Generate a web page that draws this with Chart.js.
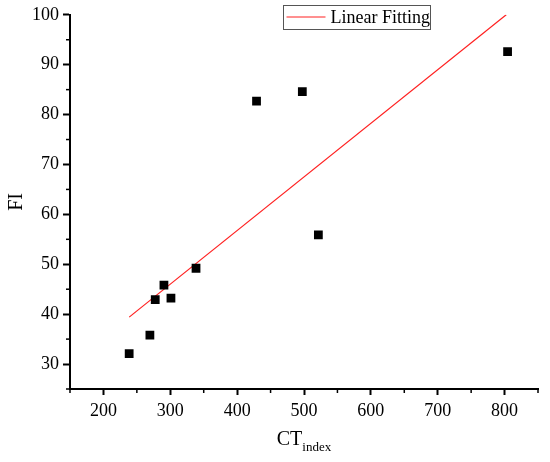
<!DOCTYPE html>
<html>
<head>
<meta charset="utf-8">
<script src="https://cdn.jsdelivr.net/npm/chart.js@4"></script>
<style>
  html, body { margin: 0; padding: 0; background: #fff; }
  #wrap { width: 550px; height: 462px; }
</style>
</head>
<body>
<div id="wrap"><canvas id="chart" width="550" height="462"></canvas></div>
<script>
const ctIndex = [238.5, 269.5, 277.5, 290.5, 301, 338.5, 429, 497.5, 521.5, 804.5]
const fiValues = [32.1, 35.8, 42.9, 45.8, 43.2, 49.2, 82.7, 84.6, 55.9, 92.6]

const fitX = [238.5, 802.5]
const fitY = [39.4, 100]

const xTicks = [200, 300, 400, 500, 600, 700, 800]
const yTicks = [30, 40, 50, 60, 70, 80, 90, 100]
const xMinorTicks = [150, 250, 350, 450, 550, 650, 750, 850]
const yMinorTicks = [25, 35, 45, 55, 65, 75, 85, 95]

const xTitle = 'CT'
const xTitleSub = 'index'
const yTitle = 'FI'
const fitLabel = 'Linear Fitting'

const serif = "'Liberation Serif', 'Times New Roman', serif"

// minor ticks, axis titles and the legend box
const extras = {
    id: 'extras',
    afterDraw(chart) {
        const { ctx, chartArea, scales } = chart
        const x = scales.x
        const y = scales.y
        ctx.save()
        ctx.strokeStyle = '#000'
        ctx.lineWidth = 1.5
        for (const v of xMinorTicks) {
            const px = x.getPixelForValue(v)
            ctx.beginPath()
            ctx.moveTo(px, chartArea.bottom)
            ctx.lineTo(px, chartArea.bottom + 4)
            ctx.stroke()
        }
        for (const v of yMinorTicks) {
            const py = y.getPixelForValue(v)
            ctx.beginPath()
            ctx.moveTo(chartArea.left, py)
            ctx.lineTo(chartArea.left - 4, py)
            ctx.stroke()
        }

        // x title with subscript
        ctx.fillStyle = '#000'
        ctx.textBaseline = 'alphabetic'
        ctx.textAlign = 'left'
        ctx.font = '20px ' + serif
        const w1 = ctx.measureText(xTitle).width
        ctx.font = '13px ' + serif
        const w2 = ctx.measureText(xTitleSub).width
        const cx = (chartArea.left + chartArea.right) / 2
        const startX = cx - (w1 + w2) / 2
        ctx.font = '20px ' + serif
        ctx.fillText(xTitle, startX, 445)
        ctx.font = '13px ' + serif
        ctx.fillText(xTitleSub, startX + w1, 451)

        // y title
        ctx.save()
        ctx.translate(17, (chartArea.top + chartArea.bottom) / 2)
        ctx.rotate(-Math.PI / 2)
        ctx.textAlign = 'center'
        ctx.textBaseline = 'middle'
        ctx.font = '20px ' + serif
        ctx.fillText(yTitle, 0, 0)
        ctx.restore()

        // legend
        const lx = 283.5, ly = 5.5
        ctx.strokeStyle = '#555'
        ctx.lineWidth = 1
        ctx.strokeRect(lx, ly, 147, 24)
        ctx.strokeStyle = '#ff2020'
        ctx.beginPath()
        ctx.moveTo(lx + 3, ly + 11.5)
        ctx.lineTo(lx + 42, ly + 11.5)
        ctx.stroke()
        ctx.fillStyle = '#000'
        ctx.font = '18px ' + serif
        ctx.textAlign = 'left'
        ctx.textBaseline = 'middle'
        ctx.fillText(chart.data.datasets[1].label, lx + 47, ly + 12.5)
        ctx.restore()
    }
}

const canvas = document.getElementById('chart')

const chart = new Chart(canvas, {
    type: 'scatter',
    data: {
        datasets: [
            {
                label: yTitle,
                data: ctIndex.map((v, i) => ({ x: v, y: fiValues[i] })),
                pointStyle: 'rect',
                pointRadius: 6.2,
                pointHoverRadius: 6.2,
                backgroundColor: '#000',
                borderColor: '#000',
                borderWidth: 0,
            },
            {
                label: fitLabel,
                data: fitX.map((v, i) => ({ x: v, y: fitY[i] })),
                showLine: true,
                pointRadius: 0,
                borderColor: '#ff2020',
                borderWidth: 1.2,
            },
        ]
    },
    options: {
        responsive: false,
        animation: false,
        layout: {
            padding: { top: 12, right: 12, left: 0, bottom: 0 }
        },
        plugins: {
            legend: false,
            tooltip: { enabled: false },
        },
        scales: {
            x: {
                type: 'linear',
                min: 150,
                max: 850,
                afterBuildTicks: (scale) => { scale.ticks = xTicks.map(v => ({ value: v })) },
                afterFit: (scale) => { scale.height = 73 },
                border: { color: '#000', width: 2 },
                grid: {
                    drawOnChartArea: false,
                    tickLength: 6,
                    tickColor: '#000',
                    tickWidth: 2,
                },
                ticks: {
                    color: '#000',
                    padding: 5,
                    maxRotation: 0,
                    font: { family: serif, size: 18 },
                },
            },
            y: {
                type: 'linear',
                min: 25,
                max: 100,
                afterBuildTicks: (scale) => { scale.ticks = yTicks.map(v => ({ value: v })) },
                afterFit: (scale) => { scale.width = 70 },
                border: { color: '#000', width: 2 },
                grid: {
                    drawOnChartArea: false,
                    tickLength: 7,
                    tickColor: '#000',
                    tickWidth: 2,
                },
                ticks: {
                    color: '#000',
                    padding: 4,
                    font: { family: serif, size: 18 },
                },
            },
        }
    },
    plugins: [extras]
});
</script>
</body>
</html>
